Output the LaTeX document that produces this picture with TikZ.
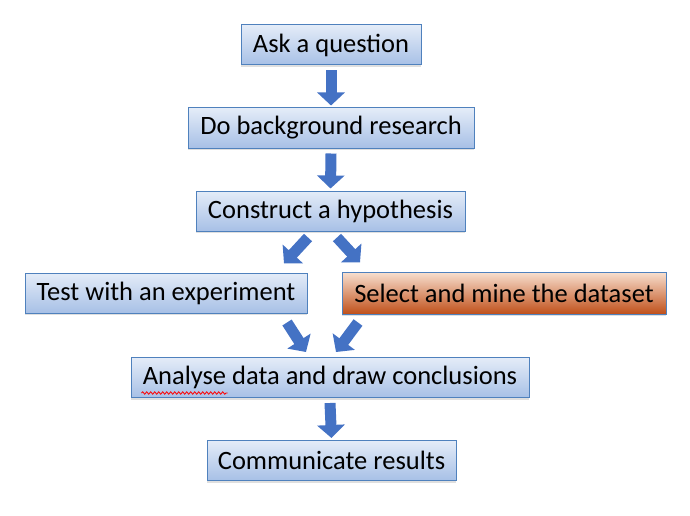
\documentclass[tikz,border=0pt]{standalone}
\usepackage{fontspec}
\setmainfont{Carlito}
\usetikzlibrary{arrows.meta,decorations.pathmorphing,shadows}
\definecolor{boxtop}{HTML}{E4ECF8}
\definecolor{boxbot}{HTML}{A7C0E6}
\definecolor{boxline}{HTML}{4F81BD}
\definecolor{arrowblue}{HTML}{4472C4}
\definecolor{ortop}{HTML}{F8E0D0}
\definecolor{ormid}{HTML}{DE7434}
\definecolor{orbot}{HTML}{C0501A}
\tikzset{
  stepbox/.style={draw=boxline, line width=1pt, top color=boxtop, bottom color=boxbot,
    minimum height=40pt, inner xsep=8pt, font=\fontsize{26.5}{30}\selectfont,
    drop shadow={shadow xshift=0pt, shadow yshift=-2pt, opacity=0.25, fill=gray}},
  orangebox/.style={draw=boxline, line width=1pt, top color=ortop, middle color=ormid, bottom color=orbot,
    minimum height=42pt, inner xsep=8pt, font=\fontsize{26.5}{30}\selectfont,
    drop shadow={shadow xshift=0pt, shadow yshift=-2pt, opacity=0.25, fill=gray}},
  blockarrow/.style={arrowblue, line width=11pt,
    -{Triangle[width=27pt,length=13pt]}},
}
\begin{document}
\begin{tikzpicture}[x=1pt,y=-1pt]
\useasboundingbox (0,0) rectangle (690,516);
\node[stepbox, minimum width=180pt] (ask) at (331,45) {Ask a question};
\node[stepbox, minimum width=286pt] (bg) at (331,128) {Do background research};
\node[stepbox, minimum width=269pt] (hyp) at (330.5,211) {Construct a hypothesis};
\node[stepbox, minimum width=282pt] (test) at (166,293) {Test with an experiment};
\node[orangebox, minimum width=324pt] (sel) at (504,293) {Select and mine the dataset};
\node[stepbox, minimum width=398pt] (ana) at (330,377.5) {Analyse data and draw conclusions};
\node[stepbox, minimum width=249pt] (com) at (331.5,460.5) {Communicate results};
% arrows
\draw[blockarrow] ([yshift=-5pt]ask.south) -- ([yshift=2pt]bg.north);
\draw[blockarrow] ([yshift=-5pt]bg.south) -- ([yshift=2pt]hyp.north);
\draw[blockarrow] ([xshift=-22.5pt,yshift=-6pt]hyp.south) -- ([xshift=118pt,yshift=9pt]test.north);
\draw[blockarrow] ([xshift=6.5pt,yshift=-6pt]hyp.south) -- ([xshift=-144pt,yshift=9pt]sel.north);
\draw[blockarrow] ([xshift=121pt,yshift=-9pt]test.south) -- ([xshift=-24pt,yshift=5pt]ana.north);
\draw[blockarrow] ([xshift=-146pt,yshift=-8pt]sel.south) -- ([xshift=6pt,yshift=5pt]ana.north);
\draw[blockarrow] ([yshift=-5pt]ana.south) -- ([yshift=2pt]com.north);
% spell-check squiggle
\coordinate (sq1) at ([xshift=11pt,yshift=5pt]ana.south west);
\coordinate (sq2) at ([xshift=97pt,yshift=5pt]ana.south west);
\draw[red, line width=0.8pt, decorate, decoration={snake, amplitude=1.2pt, segment length=4pt}] (sq1) -- (sq2);
\end{tikzpicture}
\end{document}
